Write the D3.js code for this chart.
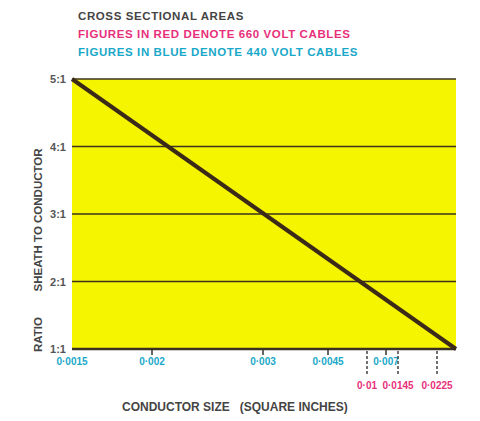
<!DOCTYPE html>
<html><head><meta charset="utf-8">
<script src="https://cdn.jsdelivr.net/npm/d3@7"></script>
<style>body{margin:0;background:#fff}text{font-family:"Liberation Sans",Arial,sans-serif;font-weight:bold}</style>
</head><body>
<svg id="chart" width="480" height="421"></svg>
<script>
const ratioTicks = [1, 2, 3, 4, 5];
const blueTicks = [0.0015, 0.002, 0.003, 0.0045, 0.007];
const blueLabels = ['0·0015', '0·002', '0·003', '0·0045', '0·007'];
const redTicks = [0.01, 0.0145, 0.0225];
const redLabels = ['0·01', '0·0145', '0·0225'];
const lineData = [{ size: 0.0015, ratio: 5 }, { size: 0.0098, ratio: 1 }];
const titles = [
  { text: 'CROSS SECTIONAL AREAS', color: '#444' },
  { text: 'FIGURES IN RED DENOTE 660 VOLT CABLES', color: '#e8307a' },
  { text: 'FIGURES IN BLUE DENOTE 440 VOLT CABLES', color: '#19a8c9' }
];

const svg = d3.select('#chart');
const plotL = 72, plotR = 456, plotT = 79, plotB = 349;
// the printed axis is not uniform, so map its labelled sizes piecewise
const xBlue = d3.scaleLinear().domain([0.0015, 0.002, 0.003, 0.0045, 0.007, 0.0098]).range([plotL, 152, 263, 328, 386, plotR]);
const xRed = d3.scaleLinear().domain([0.01, 0.0145, 0.0225]).range([367, 398, 437]);
const y = d3.scaleLinear().domain([1, 5]).range([plotB, plotT]);

svg.append('rect').attr('x', plotL).attr('y', plotT).attr('width', plotR - plotL).attr('height', plotB - plotT).attr('fill', '#f6f500');

svg.selectAll('.grid').data(ratioTicks).join('line')
  .attr('x1', plotL).attr('x2', plotR).attr('y1', d => y(d)).attr('y2', d => y(d))
  .attr('stroke', '#3a3220').attr('stroke-width', d => d === 1 ? 2.5 : 1.5);

svg.selectAll('.ylab').data(ratioTicks).join('text')
  .attr('x', 66).attr('y', d => y(d) + 4).attr('text-anchor', 'end')
  .attr('font-size', 11).attr('fill', '#555').text(d => d + ':1');

svg.append('path').datum(lineData)
  .attr('d', d3.line().x(d => xBlue(d.size)).y(d => y(d.ratio)))
  .attr('stroke', '#3b2a18').attr('stroke-width', 4).attr('fill', 'none');

svg.selectAll('.bt').data(blueTicks.slice(1)).join('line')
  .attr('x1', d => xBlue(d)).attr('x2', d => xBlue(d)).attr('y1', plotB).attr('y2', plotB + 6)
  .attr('stroke', '#333').attr('stroke-width', 1.5);
svg.selectAll('.bl').data(blueTicks).join('text')
  .attr('x', d => xBlue(d)).attr('y', plotB + 16).attr('text-anchor', 'middle')
  .attr('font-size', 10).attr('fill', '#19a8c9').text((d, i) => blueLabels[i]);

svg.selectAll('.rt').data(redTicks).join('line')
  .attr('x1', d => xRed(d)).attr('x2', d => xRed(d)).attr('y1', plotB + 2).attr('y2', plotB + 26)
  .attr('stroke', '#444').attr('stroke-width', 1.5).attr('stroke-dasharray', '3,2');
svg.selectAll('.rl').data(redTicks).join('text')
  .attr('x', d => xRed(d)).attr('y', plotB + 40).attr('text-anchor', 'middle')
  .attr('font-size', 10).attr('fill', '#e8307a').text((d, i) => redLabels[i]);

svg.append('text').attr('x', 122).attr('y', 411).attr('font-size', 12).attr('fill', '#444')
  .attr('xml:space', 'preserve').text('CONDUCTOR SIZE   (SQUARE INCHES)');

svg.append('text').attr('transform', 'translate(42,352) rotate(-90)').attr('font-size', 11.5).attr('fill', '#444')
  .attr('xml:space', 'preserve').text('RATIO        SHEATH TO CONDUCTOR');

svg.selectAll('.title').data(titles).join('text')
  .attr('x', 78).attr('y', (d, i) => 20 + i * 18).attr('font-size', 11.5)
  .attr('fill', d => d.color).attr('letter-spacing', 0.6).text(d => d.text);
</script>
</body></html>
